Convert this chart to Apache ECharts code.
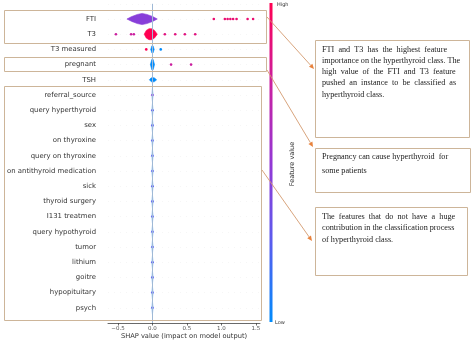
<!DOCTYPE html>
<html><head><meta charset="utf-8">
<script src="https://cdn.jsdelivr.net/npm/echarts@6/dist/echarts.min.js"></script>
<style>html,body{margin:0;padding:0;background:#fff}#c{width:474px;height:342px}</style>
</head><body><div id="c"></div>
<script>
// ---- data ----
const features = ['FTI','T3','T3 measured','pregnant','TSH','referral_source','query hyperthyroid','sex','on thyroxine','query on thyroxine','on antithyroid medication','sick','thyroid surgery','I131 treatmen','query hypothyroid','tumor','lithium','goitre','hypopituitary','psych'];
const xTicks = [-0.5, 0, 0.5, 1, 1.5];

// dense clusters: [shap, half-height in rows]
const ftiBlob = [[-0.37,0],[-0.3,0.16],[-0.22,0.3],[-0.15,0.37],[-0.08,0.3],[0,0.17],[0.07,0]];
const t3Blob = [[-0.12,0],[-0.09,0.25],[-0.05,0.36],[-0.01,0.36],[0.03,0.25],[0.07,0]];
const t3mBlob = [[-0.025,0],[-0.01,0.22],[0,0.27],[0.01,0.22],[0.025,0]];
const pregBlob = [[-0.03,0],[-0.012,0.3],[0,0.4],[0.012,0.3],[0.03,0]];
const tshBlob = [[-0.045,0],[-0.02,0.12],[0,0.15],[0.03,0.12],[0.06,0]];
const smallBlob = [[-0.006,0],[0,0.42],[0.006,0]];
const blobShapes = [ftiBlob, t3Blob, t3mBlob, pregBlob, tshBlob, smallBlob, smallBlob, smallBlob, smallBlob, smallBlob, smallBlob, smallBlob, smallBlob, smallBlob, smallBlob, smallBlob, smallBlob, smallBlob, smallBlob, smallBlob];
const blobRows = [0,1,2,3,4,5,6,7,8,9,10,11,12,13,14,15,16,17,18,19];
const blobValues = [0.45,1.0,0.0,0.0,0.0,0.1,0.05,0.05,0.05,0.05,0.05,0.05,0.05,0.05,0.05,0.05,0.05,0.05,0.05,0.05];

// individual points: shap values and feature values
const ftiDots = [0.89,1.05,1.09,1.13,1.17,1.22,1.38,1.46];
const ftiDotVal = [0.9,0.9,0.9,0.9,0.9,0.9,0.9,0.9];
const t3Dots = [-0.53,-0.31,-0.27,0.18,0.33,0.47,0.62];
const t3DotVal = [0.75,0.75,0.75,0.85,0.85,0.85,0.85];
const t3mDots = [-0.09,0.12];
const t3mDotVal = [1.0,0.0];
const pregDots = [0.27,0.56];
const pregDotVal = [0.75,0.75];
const zeroDotRows = [5,6,7,8,9,10,11,12,13,14,15,16,17,18,19];
const zeroDotVal = [0.45,0.25,0.25,0.25,0.25,0.25,0.25,0.25,0.25,0.25,0.25,0.25,0.25,0.25,0.25];

const colorStops = ['#008bfb','#5a5cee','#9437d4','#cb1f9f','#ff0052'];

// ---- build ----
const dots = [];
ftiDots.forEach((v,i)=>dots.push([v,0,ftiDotVal[i]]));
t3Dots.forEach((v,i)=>dots.push([v,1,t3DotVal[i]]));
t3mDots.forEach((v,i)=>dots.push([v,2,t3mDotVal[i]]));
pregDots.forEach((v,i)=>dots.push([v,3,pregDotVal[i]]));
zeroDotRows.forEach((r,i)=>dots.push([0,r,zeroDotVal[i]]));

const blobData = blobRows.map((r,i)=>[0,r,blobValues[i],i]);

const chart = echarts.init(document.getElementById('c'));

function arrow(x1,y1,x2,y2){
  const dx=x2-x1, dy=y2-y1, L=Math.hypot(dx,dy), ux=dx/L, uy=dy/L;
  const hl=5, hw=2.3;
  const bx=x2-ux*hl, by=y2-uy*hl;
  return [
    {type:'line',shape:{x1:x1,y1:y1,x2:bx,y2:by},style:{stroke:'#d49a6e',lineWidth:0.9},silent:true,z:10},
    {type:'polygon',shape:{points:[[x2,y2],[bx-uy*hw,by+ux*hw],[bx+uy*hw,by-ux*hw]]},style:{fill:'#e8823c'},silent:true,z:10}
  ];
}
const tan = '#cdb599';
function txt(x,y,s){return {type:'text',x:x,y:y,style:{text:s,font:'8.2px "Liberation Serif"',fill:'#1a1a1a',textVerticalAlign:'middle'},silent:true,z:12};}

const graphics = [
  {type:'rect',shape:{x:4.5,y:10.5,width:262,height:33},style:{fill:'none',stroke:tan,lineWidth:1},silent:true,z:9},
  {type:'rect',shape:{x:4.5,y:57.5,width:262,height:14},style:{fill:'none',stroke:tan,lineWidth:1},silent:true,z:9},
  {type:'rect',shape:{x:4.5,y:86.5,width:257,height:234},style:{fill:'none',stroke:tan,lineWidth:1},silent:true,z:9},
  {type:'rect',shape:{x:269.5,y:3,width:3,height:319},style:{fill:new echarts.graphic.LinearGradient(0,1,0,0,colorStops.map((c,i)=>({offset:i/(colorStops.length-1),color:c})))},silent:true},
  {type:'text',x:277,y:5,style:{text:'High',font:'5px "DejaVu Sans"',fill:'#333',textVerticalAlign:'middle'},silent:true},
  {type:'text',x:275,y:323,style:{text:'Low',font:'5px "DejaVu Sans"',fill:'#333',textVerticalAlign:'middle'},silent:true},
  {type:'text',x:292,y:164,rotation:Math.PI/2,style:{text:'Feature value',font:'6.5px "DejaVu Sans"',fill:'#333',textAlign:'center',textVerticalAlign:'middle'},silent:true},
  {type:'rect',shape:{x:315.5,y:40.5,width:154,height:97},style:{fill:'#fff',stroke:tan,lineWidth:1},silent:true,z:11},
  {type:'rect',shape:{x:315.5,y:148.5,width:155,height:44},style:{fill:'#fff',stroke:tan,lineWidth:1},silent:true,z:11},
  {type:'rect',shape:{x:315.5,y:207.5,width:152,height:68},style:{fill:'#fff',stroke:tan,lineWidth:1},silent:true,z:11},
  txt(322,50,'FTI  and  T3  has  the  highest  feature'),
  txt(322,61,'importance on the hyperthyroid class. The'),
  txt(322,72,'high  value  of  the  FTI  and  T3  feature'),
  txt(322,83,'pushed  an  instance  to  be  classified  as'),
  txt(322,95,'hyperthyroid class.'),
  txt(322,157,'Pregnancy can cause hyperthyroid  for'),
  txt(322,171,'some patients'),
  txt(322,217,'The  features  that  do  not  have  a  huge'),
  txt(322,228,'contribution in the classification process'),
  txt(322,240,'of hyperthyroid class.')
].concat(arrow(267,17,314,69), arrow(267,70,313,147), arrow(262,170,312,241));

chart.setOption({
  animation:false,
  grid:{left:108,width:152,top:3.8,height:319.2,containLabel:false,outerBoundsMode:'none'},
  xAxis:{type:'value',min:-0.645,max:1.56,
    axisLine:{show:true,onZero:false,lineStyle:{color:'#444',width:0.8}},
    axisTick:{show:true,length:2.5,customValues:xTicks,lineStyle:{color:'#444',width:0.8}},
    axisLabel:{customValues:xTicks,margin:3,fontSize:5.5,color:'#555',fontFamily:'DejaVu Sans',
      formatter:v=>(v<0?'\u2212':'')+Math.abs(v).toFixed(1)},
    splitLine:{show:false},
    name:'SHAP value (impact on model output)',nameLocation:'middle',nameGap:10,nameMoveOverlap:false,
    nameTextStyle:{fontSize:6.7,color:'#333',fontFamily:'DejaVu Sans'}},
  yAxis:{type:'value',inverse:true,min:-1,max:20,interval:1,
    axisLine:{show:false},axisTick:{show:false},
    splitLine:{show:true,lineStyle:{color:'#ececec',width:0.5,type:[1,5]}},
    axisLabel:{margin:12,fontSize:6.9,color:'#333',fontFamily:'DejaVu Sans',
      formatter:v=>(v>=0&&v<features.length)?features[v]:''}},
  visualMap:{show:false,type:'continuous',min:0,max:1,dimension:2,seriesIndex:[1,2],inRange:{color:colorStops}},
  series:[
    {type:'line',data:[],markLine:{silent:true,symbol:'none',label:{show:false},
      lineStyle:{color:'#9fb9d6',width:1,type:'solid'},data:[{xAxis:0}]},z:1},
    {type:'custom',data:blobData,z:3,
      renderItem:function(params,api){
        const shp=blobShapes[api.value(3)], row=api.value(1);
        const top=shp.map(p=>api.coord([p[0],row-p[1]]));
        const bot=shp.slice().reverse().map(p=>api.coord([p[0],row+p[1]]));
        return {type:'polygon',shape:{points:top.concat(bot)},style:{fill:api.visual('color'),stroke:api.visual('color'),lineWidth:0.6}};
      }},
    {type:'scatter',data:dots,symbolSize:2.6,z:4,itemStyle:{opacity:1}}
  ],
  graphic:graphics
});
</script></body></html>
